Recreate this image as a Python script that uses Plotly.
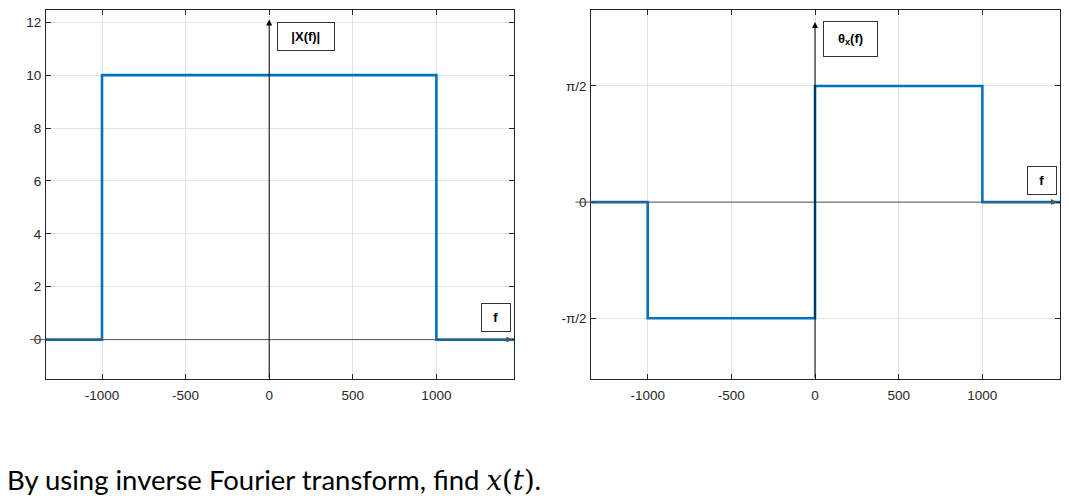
import numpy as np
import plotly.graph_objects as go

# --- data ---
mag_f = [-1400, -1000, 1000, 1500]
mag_val = [0, 10, 0, 0]

phase_f = [-1400, -1000, 0, 1000, 1500]
phase_val = [0, -np.pi / 2, np.pi / 2, 0, 0]

x_ticks = [-1000, -500, 0, 500, 1000]
x_tick_text = ["-1000", "-500", "0", "500", "1000"]
mag_ticks = [0, 2, 4, 6, 8, 10, 12]
phase_ticks = [-np.pi / 2, 0, np.pi / 2]
phase_tick_text = ["-π/2", "0", "π/2"]

W, H = 1069, 503
BLUE = "#0072BD"
AX = "#262626"
GRID = "#e3e3e3"


def px_x(p):
    return p / W


def px_y(p):
    return 1 - p / H


fig = go.Figure()

fig.add_trace(go.Scatter(x=mag_f, y=mag_val, mode="lines", line_shape="hv",
                         line=dict(color=BLUE, width=2.6),
                         xaxis="x", yaxis="y", showlegend=False))
fig.add_trace(go.Scatter(x=phase_f, y=phase_val, mode="lines", line_shape="hv",
                         line=dict(color=BLUE, width=2.6),
                         xaxis="x2", yaxis="y2", showlegend=False))

axis_common = dict(
    showline=True, linecolor=AX, linewidth=1, mirror="allticks",
    ticks="inside", ticklen=5, tickcolor=AX, tickwidth=1,
    showgrid=True, gridcolor=GRID, gridwidth=1, zeroline=False,
    tickfont=dict(family="Liberation Sans, Arial", size=13.5, color=AX),
    automargin=False,
)

fig.update_layout(
    width=W, height=H,
    margin=dict(l=0, r=0, t=0, b=0),
    paper_bgcolor="white", plot_bgcolor="white",
    xaxis=dict(domain=[px_x(46), px_x(514.3)], range=[-1335, 1466],
               tickvals=x_ticks, ticktext=x_tick_text, anchor="y",
               ticklabelstandoff=3, **axis_common),
    yaxis=dict(domain=[px_y(379.3), px_y(10.3)], range=[-1.5, 12.45],
               tickvals=mag_ticks, anchor="x", ticklabelstandoff=1, **axis_common),
    xaxis2=dict(domain=[px_x(591.3), px_x(1060)], range=[-1337, 1464],
                tickvals=x_ticks, ticktext=x_tick_text, anchor="y2",
                ticklabelstandoff=3, **axis_common),
    yaxis2=dict(domain=[px_y(379.3), px_y(10.3)], range=[-2.396, 2.594],
                tickvals=phase_ticks, ticktext=phase_tick_text, anchor="x2",
                ticklabelstandoff=1, **axis_common),
)

# --- axis arrows (hand-drawn style, like the original annotations) ---
arrows = [
    # left: f axis and |X(f)| axis
    dict(xref="x", yref="y", x=1455, y=0, axref="pixel", ayref="pixel", ax=-484, ay=0,
         arrowcolor="#555555"),
    dict(xref="x", yref="y", x=0, y=12.1, axref="x", ayref="y", ax=0, ay=-1.5,
         arrowcolor="black"),
    # right: f axis and theta axis
    dict(xref="x2", yref="y2", x=1446, y=0, axref="pixel", ayref="pixel", ax=-483, ay=0,
         arrowcolor="#555555"),
    dict(xref="x2", yref="y2", x=0, y=2.436, axref="x2", ayref="y2", ax=0, ay=-2.396,
         arrowcolor="black"),
]
for a in arrows:
    fig.add_annotation(text="", showarrow=True, arrowhead=2, arrowsize=1.2,
                       arrowwidth=1, standoff=0, **a)

# --- boxed labels ---
boxes = [
    ("<b>|X(f)|</b>", 276.7, 334.3, 21.7, 50.3),
    ("<b>f</b>", 481, 510.7, 302.3, 331.7),
    ("<b>θ<sub>x</sub>(f)</b>", 823.3, 878.3, 20.7, 56.7),
    ("<b>f</b>", 1026.7, 1056.3, 166.3, 195.3),
]
for txt, x0, x1, y0, y1 in boxes:
    fig.add_annotation(text=txt, xref="paper", yref="paper",
                       x=px_x((x0 + x1) / 2), y=px_y((y0 + y1) / 2),
                       xanchor="center", yanchor="middle", showarrow=False,
                       width=x1 - x0 - 6, height=y1 - y0 - 6, borderpad=2,
                       bordercolor="#333333", borderwidth=1, bgcolor="white",
                       font=dict(family="Liberation Sans, Arial", size=13, color="black"))

# --- question text ---
fig.add_annotation(
    text="By using inverse Fourier transform, find "
         "<span style='font-family:DejaVu Serif'><i>x</i>(<i>t</i>)</span>.",
    xref="paper", yref="paper", x=px_x(5), y=px_y(479),
    xanchor="left", yanchor="middle", showarrow=False,
    font=dict(family="Lato", size=27.5, color="black"),
)

# page body has an 8px default margin; drop it so the figure sits at (0, 0)
fig.write_html("out.html", config={"displayModeBar": False},
               post_script="document.body.style.margin='0';")
